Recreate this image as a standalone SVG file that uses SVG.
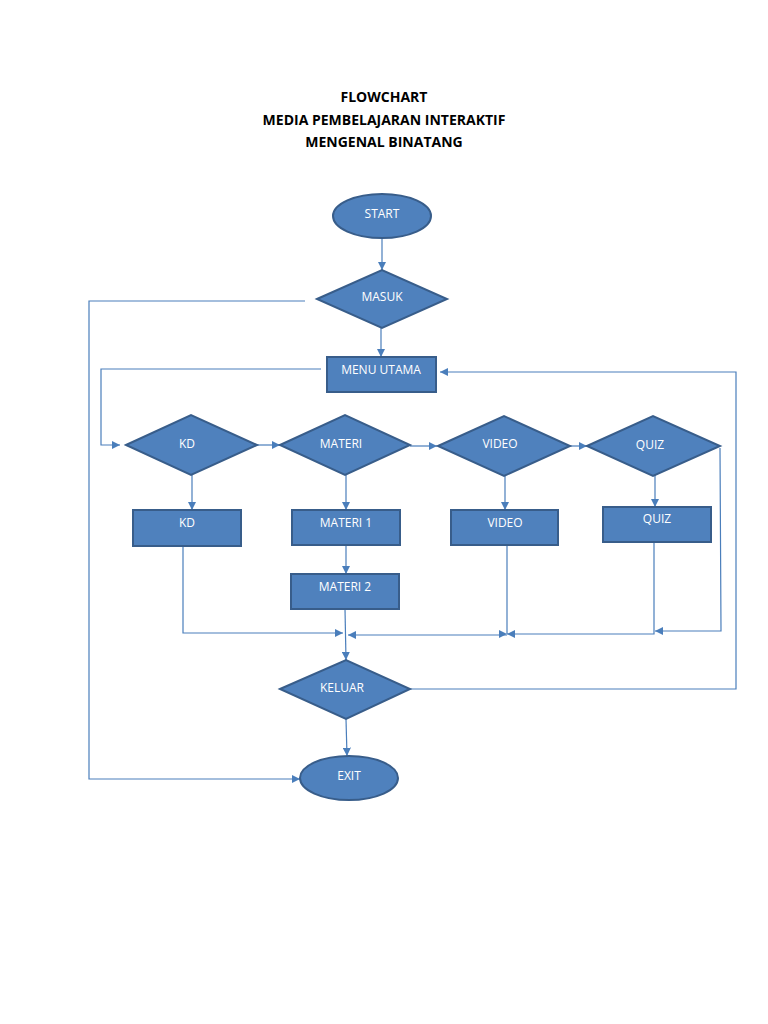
<svg xmlns="http://www.w3.org/2000/svg" width="768" height="1024" viewBox="0 0 768 1024">
<style>
.s{fill:#4f81bd;stroke:#385d8a;stroke-width:2}
.t{fill:#fff;font-family:"Open Sans","Liberation Sans",sans-serif;font-size:12px;text-anchor:middle;dominant-baseline:middle}
.h{fill:#000;font-family:"Open Sans","Liberation Sans",sans-serif;font-size:14px;font-weight:bold;text-anchor:middle}
.c{fill:none;stroke:#4a7ebb;stroke-width:1.2}
</style>
<defs><marker id="a" viewBox="0 0 10 10" refX="10" refY="5" markerWidth="7" markerHeight="7" orient="auto"><path d="M0,0L10,5L0,10z" fill="#4a7ebb"/></marker></defs>
<rect width="768" height="1024" fill="#fff"/>
<g id="title"><text class="h" x="384" y="102">FLOWCHART</text><text class="h" x="384" y="125">MEDIA PEMBELAJARAN INTERAKTIF</text><text class="h" x="384" y="147">MENGENAL BINATANG</text></g>
<g id="connectors">
<path class="c" marker-end="url(#a)" d="M382,238V270"/>
<path class="c" marker-end="url(#a)" d="M381,328V357"/>
<path class="c" marker-end="url(#a)" d="M305,301H89V779H300"/>
<path class="c" marker-end="url(#a)" d="M321,369H101V445H120"/>
<path class="c" marker-end="url(#a)" d="M410,689H736V372H440"/>
<path class="c" marker-end="url(#a)" d="M257,445H280"/>
<path class="c" marker-end="url(#a)" d="M410,446H437"/>
<path class="c" marker-end="url(#a)" d="M570,446H587"/>
<path class="c" marker-end="url(#a)" d="M192,475V510"/>
<path class="c" marker-end="url(#a)" d="M346,475V510"/>
<path class="c" marker-end="url(#a)" d="M505,475V510"/>
<path class="c" marker-end="url(#a)" d="M655,475V507"/>
<path class="c" marker-end="url(#a)" d="M346,545V574"/>
<path class="c" marker-end="url(#a)" d="M183,546V633H343"/>
<path class="c" marker-end="url(#a)" d="M345,609L346,660"/>
<path class="c" marker-end="url(#a)" d="M507,546V634H507"/>
<path class="c" marker-end="url(#a)" d="M654,542V634H507"/>
<path class="c" marker-end="url(#a)" d="M507,635H348"/>
<path class="c" marker-end="url(#a)" d="M720,448L721,631H655"/>
<path class="c" marker-end="url(#a)" d="M346,719L347,756"/>
</g>
<g id="start"><ellipse class="s" cx="382" cy="216" rx="49" ry="22"/><text class="t" x="382" y="215">START</text></g>
<g id="masuk"><polygon class="s" points="317,299 382,270 447,299 382,328"/><text class="t" x="382" y="298">MASUK</text></g>
<g id="menu"><rect class="s" x="327" y="357" width="109" height="35"/><text class="t" x="381" y="371">MENU UTAMA</text></g>
<g id="d-kd"><polygon class="s" points="126,445 191,415 257,445 191,475"/><text class="t" x="187" y="445">KD</text></g>
<g id="d-materi"><polygon class="s" points="280,445 345,415 410,445 345,475"/><text class="t" x="341" y="445">MATERI</text></g>
<g id="d-video"><polygon class="s" points="438,446 504,416 570,446 504,476"/><text class="t" x="500" y="445">VIDEO</text></g>
<g id="d-quiz"><polygon class="s" points="587,446 653,416 720,446 653,476"/><text class="t" x="650" y="446">QUIZ</text></g>
<g id="r-kd"><rect class="s" x="133" y="510" width="108" height="36"/><text class="t" x="187" y="524">KD</text></g>
<g id="r-materi1"><rect class="s" x="292" y="510" width="108" height="35"/><text class="t" x="346" y="524">MATERI 1</text></g>
<g id="r-video"><rect class="s" x="451" y="510" width="107" height="35"/><text class="t" x="505" y="524">VIDEO</text></g>
<g id="r-quiz"><rect class="s" x="603" y="507" width="108" height="35"/><text class="t" x="657" y="520">QUIZ</text></g>
<g id="r-materi2"><rect class="s" x="291" y="574" width="108" height="35"/><text class="t" x="345" y="588">MATERI 2</text></g>
<g id="keluar"><polygon class="s" points="280,689 346,660 410,689 346,719"/><text class="t" x="342" y="689">KELUAR</text></g>
<g id="exit"><ellipse class="s" cx="349" cy="778" rx="49" ry="22"/><text class="t" x="349" y="777">EXIT</text></g>
</svg>
